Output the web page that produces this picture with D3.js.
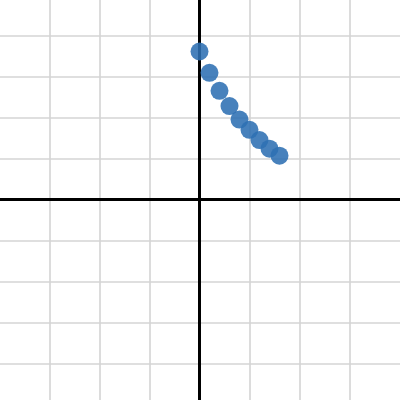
<!DOCTYPE html>
<html>
<head>
<meta charset="utf-8">
<script src="https://cdn.jsdelivr.net/npm/d3@7"></script>
<style>
  html, body { margin: 0; padding: 0; background: #fff; }
  svg { display: block; }
</style>
</head>
<body>
<div id="chart"></div>
<script>
// values
var xValues = [0, 0.2, 0.4, 0.6, 0.8, 1.0, 1.2, 1.4, 1.6];
var yValues = [3.61, 3.09, 2.65, 2.28, 1.95, 1.70, 1.45, 1.24, 1.07];
var xTicks = [-3, -2, -1, 0, 1, 2, 3];
var yTicks = [-4, -3, -2, -1, 0, 1, 2, 3, 4];

var width = 400, height = 400;

var x = d3.scaleLinear().domain([-4, 4]).range([-0.5, width - 0.5]);
var y = d3.scaleLinear().domain([-200 / 41, 200 / 41]).range([height - 0.5, -0.5]);

var svg = d3.select('#chart').append('svg')
  .attr('width', width)
  .attr('height', height);

// grid
svg.append('g')
  .attr('class', 'x-grid')
  .call(d3.axisBottom(x).tickValues(xTicks.filter(function(d){ return d !== 0; }))
    .tickSize(height + 1).tickFormat(''))
  .call(function(g){
    g.select('.domain').remove();
    g.selectAll('line').attr('stroke', '#d4d4d4').attr('stroke-width', 1.6);
  });

svg.append('g')
  .attr('class', 'y-grid')
  .call(d3.axisRight(y).tickValues(yTicks.filter(function(d){ return d !== 0; }))
    .tickSize(width + 1).tickFormat(''))
  .call(function(g){
    g.select('.domain').remove();
    g.selectAll('line').attr('stroke', '#d4d4d4').attr('stroke-width', 1.6);
  });

// axes through origin
svg.append('line')
  .attr('x1', 0).attr('x2', width)
  .attr('y1', y(0)).attr('y2', y(0))
  .attr('stroke', '#000').attr('stroke-width', 3);

svg.append('line')
  .attr('x1', x(0)).attr('x2', x(0))
  .attr('y1', 0).attr('y2', height)
  .attr('stroke', '#000').attr('stroke-width', 3);

// points
svg.append('g')
  .selectAll('circle')
  .data(xValues)
  .enter().append('circle')
  .attr('cx', function(d){ return x(d); })
  .attr('cy', function(d, i){ return y(yValues[i]); })
  .attr('r', 9)
  .attr('fill', '#2d70b3')
  .attr('fill-opacity', 0.88);
</script>
</body>
</html>
